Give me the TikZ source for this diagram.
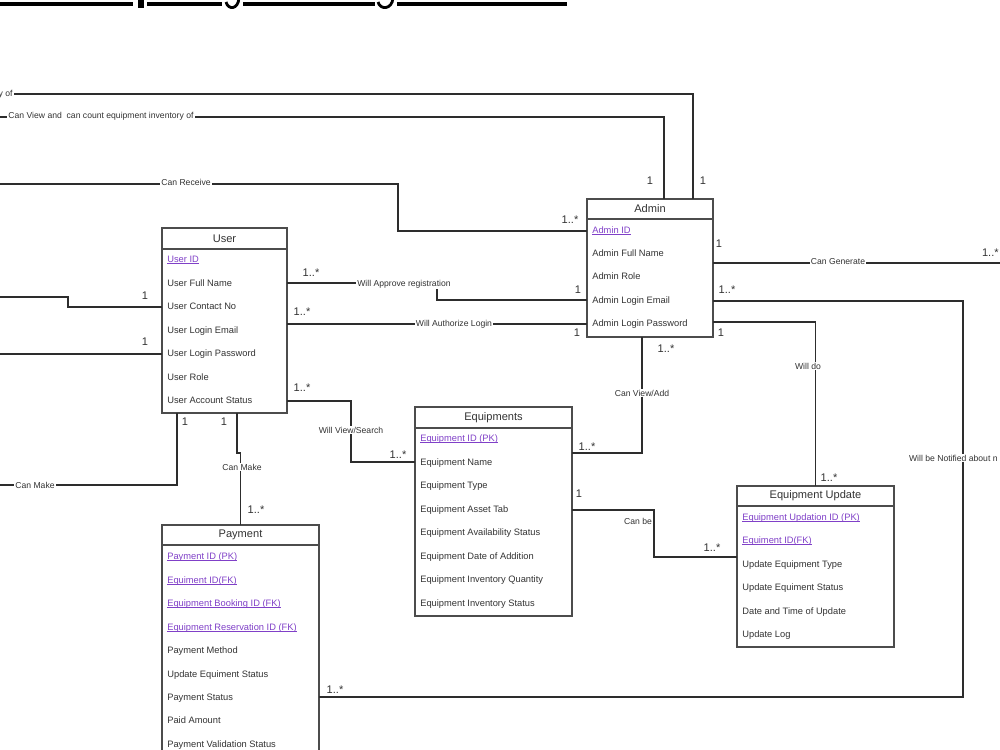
\documentclass[tikz,border=0pt]{standalone}
\usepackage{fontspec}
\setmainfont{Liberation Sans}
\usetikzlibrary{fit}
\definecolor{txt}{RGB}{51,51,51}
\definecolor{lnk}{RGB}{128,64,200}
\definecolor{ln}{RGB}{45,45,45}
\newcommand{\pkey}[1]{\textcolor{lnk}{\setbox0\hbox{#1}\rlap{\smash{\rule[-0.9pt]{\wd0}{0.35pt}}}\box0}}
\tikzset{
 ebox/.style={draw=black!70, line width=0.7pt, inner sep=0pt, outer sep=0pt},
 hline/.style={draw=black!70, line width=0.7pt},
 hdr/.style={text=txt, font=\fontsize{6.3}{7}\selectfont, inner sep=0pt},
 attr/.style={text=txt, font=\fontsize{5.3}{6}\selectfont, anchor=base west, inner sep=0pt, yshift=-1.93pt},
 rel/.style={text=txt, font=\fontsize{4.9}{5.5}\selectfont, fill=white, inner sep=0.6pt},
 mult/.style={text=txt, font=\fontsize{6.3}{7}\selectfont, inner sep=0pt},
 conn/.style={draw=ln, line width=0.6pt},
 ttl/.style={draw=black, line width=1.9pt},
 hook/.style={draw=black, line width=1.6pt},
}
\begin{document}
\begin{tikzpicture}[x=0.02cm,y=-0.02cm]
\useasboundingbox (0,0) rectangle (1000,750);
\clip (0,0) rectangle (1000,750);
\fill[white] (0,0) rectangle (1000,750);

% ---- cut-off title underline ----
\draw[ttl] (0,4) -- (133,4);
\draw[ttl] (147,4) -- (222,4);
\draw[ttl] (243,4) -- (375,4);
\draw[ttl] (397,4) -- (567,4);
\fill[black] (138,0) rectangle (144,8);
\draw[hook] (226,2) .. controls (228,10) and (238,10) .. (239,-2);
\draw[hook] (378,2) .. controls (380,10) and (392,10) .. (393,-2);

% ---- Admin ----
\node[ebox, fit={(587,199)(713,337)}] (admin) {};
\draw[hline] (587,219) -- (713,219);
\node[hdr] (adminT) at (650,209) {Admin};
\node[attr] (aID) at (592,230) {\pkey{Admin ID}};
\node[attr] (aName) at (592,253) {Admin Full Name};
\node[attr] (aRole) at (592,276) {Admin Role};
\node[attr] (aEmail) at (592,300) {Admin Login Email};
\node[attr] (aPass) at (592,323) {Admin Login Password};

% ---- User ----
\node[ebox, fit={(162,228)(287,413)}] (user) {};
\draw[hline] (162,249) -- (287,249);
\node[hdr] (userT) at (224.5,239) {User};
\node[attr] (uID) at (167,259) {\pkey{User ID}};
\node[attr] (uFull) at (167,283) {User Full Name};
\node[attr] (uContact) at (167,306) {User Contact No};
\node[attr] (uEmail) at (167,330) {User Login Email};
\node[attr] (uPass) at (167,353) {User Login Password};
\node[attr] (uRole) at (167,377) {User Role};
\node[attr] (uStatus) at (167,400) {User Account Status};

% ---- Equipments ----
\node[ebox, fit={(415,407)(572,616)}] (equip) {};
\draw[hline] (415,428) -- (572,428);
\node[hdr] (equipT) at (493.5,418) {Equipments};
\node[attr] (eID) at (420,438) {\pkey{Equipment ID (PK)}};
\node[attr] (eName) at (420,462) {Equipment Name};
\node[attr] (eType) at (420,485) {Equipment Type};
\node[attr] (eAsset) at (420,509) {Equipment Asset Tab};
\node[attr] (eAvail) at (420,532) {Equipment Availability Status};
\node[attr] (eDate) at (420,556) {Equipment Date of Addition};
\node[attr] (eQty) at (420,579) {Equipment Inventory Quantity};
\node[attr] (eInv) at (420,603) {Equipment Inventory Status};

% ---- Equipment Update ----
\node[ebox, fit={(737,486)(894,647)}] (equ) {};
\draw[hline] (737,506) -- (894,506);
\node[hdr] (equT) at (815.5,496) {Equipment Update};
\node[attr] (quID) at (742,517) {\pkey{Equipment Updation ID (PK)}};
\node[attr] (quEq) at (742,540) {\pkey{Equiment ID(FK)}};
\node[attr] (quType) at (742,564) {Update Equipment Type};
\node[attr] (quStat) at (742,587) {Update Equiment Status};
\node[attr] (quDate) at (742,611) {Date and Time of Update};
\node[attr] (quLog) at (742,634) {Update Log};

% ---- Payment ----
\node[ebox, fit={(162,525)(319,790)}] (pay) {};
\draw[hline] (162,545) -- (319,545);
\node[hdr] (payT) at (240.5,535) {Payment};
\node[attr] (pID) at (167,556) {\pkey{Payment ID (PK)}};
\node[attr] (pEq) at (167,580) {\pkey{Equiment ID(FK)}};
\node[attr] (pBook) at (167,603) {\pkey{Equipment Booking ID (FK)}};
\node[attr] (pRes) at (167,627) {\pkey{Equipment Reservation ID (FK)}};
\node[attr] (pMeth) at (167,650) {Payment Method};
\node[attr] (pUpd) at (167,674) {Update Equiment Status};
\node[attr] (pStat) at (167,697) {Payment Status};
\node[attr] (pPaid) at (167,720) {Paid Amount};
\node[attr] (pVal) at (167,744) {Payment Validation Status};

% ---- helper coordinates ----
\coordinate (L1) at (0,94);
\coordinate (L2) at (0,117);
\coordinate (L3) at (0,184);
\coordinate (L6) at (0,297);
\coordinate (L7) at (0,354);
\coordinate (L8) at (0,485);
\coordinate (cx693) at (693,0);
\coordinate (cx664) at (664,0);
\coordinate (cx642) at (642,0);
\coordinate (cx177) at (177,0);
\coordinate (cx237) at (237,0);
\coordinate (b3) at (398,184);
\coordinate (b4) at (437,283);
\coordinate (b6) at (68,297);
\coordinate (b9a) at (237,453);
\coordinate (b9b) at (240.5,453);
\coordinate (b10) at (351,401);
\coordinate (b12) at (654,510);
\coordinate (b14) at (963,301);
\coordinate (y231) at (0,231);
\coordinate (y283) at (0,283);
\coordinate (y300) at (0,300);
\coordinate (y301) at (0,301);
\coordinate (y307) at (0,307);
\coordinate (y401) at (0,401);
\coordinate (y462) at (0,462);
\coordinate (y510) at (0,510);
\coordinate (y322) at (0,322);
\coordinate (y453) at (0,453);
\coordinate (y557) at (0,557);
\coordinate (y697) at (0,697);
\coordinate (y263) at (0,263);
\coordinate (y324) at (0,324);
\coordinate (R15) at (1000,263);

% ---- connectors ----
\draw[conn] (L1) -| (admin.north -| cx693);
\draw[conn] (L2) -| (admin.north -| cx664);
\draw[conn] (L3) -- (b3) |- (admin.west |- y231);
\draw[conn] (user.east |- y283) -- (b4) |- (admin.west |- y300);
\draw[conn] (user.east |- y324) -- (admin.west |- y324);
\draw[conn] (L6) -- (b6) |- (user.west |- y307);
\draw[conn] (L7) -- (user.west |- L7);
\draw[conn] (L8) -| (user.south -| cx177);
\draw[conn] (user.south -| cx237) -- (b9a) -- (b9b) -- (pay.north);
\draw[conn] (user.east |- y401) -- (b10) |- (equip.west |- y462);
\draw[conn] (admin.south -| cx642) |- (equip.east |- y453);
\draw[conn] (equip.east |- y510) -- (b12) |- (equ.west |- y557);
\draw[conn] (admin.east |- y322) -| (equ.north);
\draw[conn] (admin.east |- y301) -- (b14) |- (pay.east |- y697);
\draw[conn] (admin.east |- y263) -- (R15);

% ---- relationship labels ----
\node[rel, anchor=east] (r1) at (14,94) {y of};
\node[rel] (r2) at (101,116) {Can View and\ \ can count equipment inventory of};
\node[rel] (r3) at (186,182) {Can Receive};
\node[rel] (r4) at (404,284) {Will Approve registration};
\node[rel] (r5) at (454,324) {Will Authorize Login};
\node[rel] (r8) at (35,485) {Can Make};
\node[rel] (r9) at (242,467) {Can Make};
\node[rel] (r10) at (351,430) {Will View/Search};
\node[rel] (r11) at (642,393) {Can View/Add};
\node[rel] (r12) at (638,521) {Can be};
\node[rel] (r13) at (808,366) {Will do};
\node[rel, anchor=east] (r14) at (999,458) {Will be Notified about n};
\node[rel] (r15) at (838,262) {Can Generate};

% ---- multiplicities ----
\node[mult] (m1) at (650,181) {1};
\node[mult] (m2) at (703,181) {1};
\node[mult] (m3) at (570,220) {1..*};
\node[mult] (m4) at (719,244) {1};
\node[mult, anchor=east] (m5) at (999,253) {1..*};
\node[mult] (m6) at (578,290) {1};
\node[mult] (m7) at (727,290) {1..*};
\node[mult] (m8) at (577,333) {1};
\node[mult] (m9) at (721,333) {1};
\node[mult] (m10) at (666,349) {1..*};
\node[mult] (m11) at (311,273) {1..*};
\node[mult] (m12) at (302,312) {1..*};
\node[mult] (m13) at (302,388) {1..*};
\node[mult] (m14) at (145,296) {1};
\node[mult] (m15) at (145,342) {1};
\node[mult] (m16) at (185,422) {1};
\node[mult] (m17) at (224,422) {1};
\node[mult] (m18) at (398,455) {1..*};
\node[mult] (m19) at (587,447) {1..*};
\node[mult] (m20) at (579,494) {1};
\node[mult] (m21) at (712,548) {1..*};
\node[mult] (m22) at (829,478) {1..*};
\node[mult] (m23) at (256,510) {1..*};
\node[mult] (m24) at (335,690) {1..*};
\end{tikzpicture}
\end{document}
